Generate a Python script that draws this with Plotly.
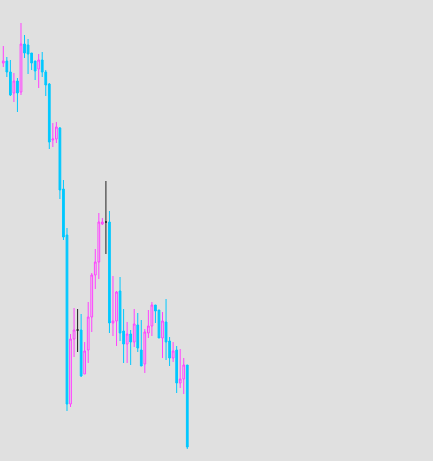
import plotly.graph_objects as go

# bar index and OHLC prices (points)
bar_idx = list(range(53))
opens = [398, 400, 389, 368, 380, 369, 417, 416, 408, 400, 392, 401, 389, 377, 321, 322, 333, 272, 226, 57,
         122, 131, 131, 87, 111, 144, 186, 199, 237, 239, 239, 138, 140, 170, 130, 117, 127, 119, 136, 111,
         97, 128, 135, 156, 151, 123, 139, 120, 103, 111, 78, 82, 96]
highs = [415, 404, 401, 388, 383, 438, 426, 422, 408, 400, 407, 409, 391, 378, 338, 339, 334, 281, 233, 127,
         153, 152, 147, 119, 159, 188, 212, 248, 243, 280, 250, 185, 170, 184, 152, 139, 131, 152, 148, 141,
         132, 151, 159, 156, 151, 149, 162, 124, 119, 115, 112, 103, 96]
lows = [394, 384, 365, 359, 349, 366, 403, 387, 391, 381, 373, 384, 365, 312, 314, 318, 262, 221, 50, 54,
        104, 109, 84, 87, 98, 129, 172, 182, 236, 207, 128, 125, 115, 120, 98, 98, 96, 114, 109, 95,
        88, 123, 125, 138, 123, 103, 101, 95, 99, 68, 73, 67, 12]
closes = [400, 389, 366, 380, 368, 417, 408, 407, 398, 390, 401, 389, 376, 319, 322, 334, 271, 224, 57, 122,
          131, 131, 85, 110, 144, 186, 199, 239, 239, 239, 138, 140, 169, 128, 117, 127, 119, 137, 113, 95,
          129, 135, 156, 150, 123, 140, 119, 103, 110, 78, 82, 96, 14]

UP = "#FF40FF"
DOWN = "#00C8FF"
DOJI = "#222222"
BG = "#E0E0E0"

# split doji bars (open == close) into their own black trace
doji = [i for i in bar_idx if opens[i] == closes[i]]
main = [i for i in bar_idx if opens[i] != closes[i]]

fig = go.Figure()

fig.add_trace(go.Candlestick(
    x=[bar_idx[i] for i in main],
    open=[opens[i] for i in main],
    high=[highs[i] for i in main],
    low=[lows[i] for i in main],
    close=[closes[i] for i in main],
    increasing=dict(line=dict(color=UP, width=1), fillcolor="rgba(0,0,0,0)"),
    decreasing=dict(line=dict(color=DOWN, width=1), fillcolor=DOWN),
    showlegend=False,
))

fig.add_trace(go.Candlestick(
    x=[bar_idx[i] for i in doji],
    open=[opens[i] for i in doji],
    high=[highs[i] for i in doji],
    low=[lows[i] for i in doji],
    close=[closes[i] for i in doji],
    increasing=dict(line=dict(color=DOJI, width=1), fillcolor=DOJI),
    decreasing=dict(line=dict(color=DOJI, width=1), fillcolor=DOJI),
    showlegend=False,
))

fig.update_layout(
    width=433, height=461,
    margin=dict(l=0, r=0, t=0, b=0),
    paper_bgcolor=BG,
    plot_bgcolor=BG,
    xaxis=dict(range=[-0.933, 121.45], visible=False, rangeslider=dict(visible=False),
               showgrid=False, zeroline=False),
    yaxis=dict(range=[0, 461], visible=False, showgrid=False, zeroline=False),
)

# drop the page margin so the chart fills the window
fig.write_html("out.html", config={"displayModeBar": False},
               post_script="document.body.style.margin='0';document.body.style.overflow='hidden';")
